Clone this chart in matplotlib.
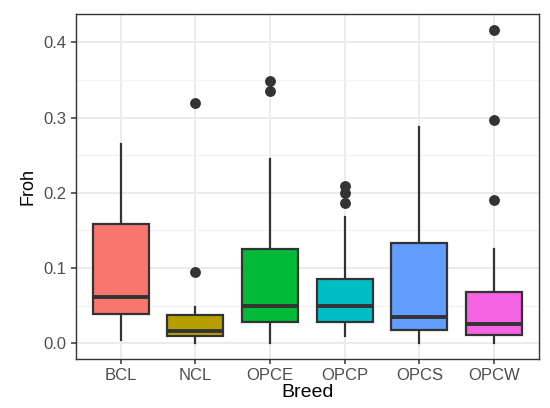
import matplotlib
matplotlib.use("Agg")
import matplotlib.pyplot as plt

breeds = ["BCL", "NCL", "OPCE", "OPCP", "OPCS", "OPCW"]
colors = ["#F8766D", "#B79F00", "#00BA38", "#00BFC4", "#619CFF", "#F564E3"]
whislo = [0.004, 0.001, 0.0, 0.010, 0.0, 0.0]
q1 = [0.039, 0.010, 0.028, 0.028, 0.018, 0.011]
med = [0.061, 0.016, 0.049, 0.050, 0.035, 0.026]
q3 = [0.159, 0.038, 0.126, 0.085, 0.133, 0.068]
whishi = [0.265, 0.048, 0.245, 0.168, 0.287, 0.126]
outliers = [[], [0.320, 0.095], [0.349, 0.335], [0.209, 0.200, 0.186], [], [0.417, 0.297, 0.191]]

plt.rcParams['font.family'] = ['Liberation Sans', 'DejaVu Sans']

fig = plt.figure(figsize=(5.5, 4.08), dpi=100)
ax = fig.add_axes([0.138, 0.120, 0.8415, 0.846])

stats = []
for i, b in enumerate(breeds):
    stats.append(dict(label=b, whislo=whislo[i], q1=q1[i], med=med[i], q3=q3[i],
                      whishi=whishi[i], fliers=outliers[i]))

dark = "#333333"
bp = ax.bxp(stats, positions=range(1, len(breeds) + 1), widths=0.75, patch_artist=True,
            showcaps=False,
            boxprops=dict(edgecolor=dark, linewidth=1.6),
            whiskerprops=dict(color=dark, linewidth=1.6),
            medianprops=dict(color=dark, linewidth=2.8),
            flierprops=dict(marker='o', markerfacecolor=dark, markeredgecolor=dark,
                            markersize=6.8, linestyle='none'))
for patch, c in zip(bp['boxes'], colors):
    patch.set_facecolor(c)
for w in bp['whiskers']:
    w.set_zorder(1.5)

ax.set_xlim(0.4, 6.6)
ax.set_ylim(-0.0209, 0.4379)
ax.set_yticks([0.0, 0.1, 0.2, 0.3, 0.4])
ax.set_yticklabels(["0.0", "0.1", "0.2", "0.3", "0.4"])
ax.set_yticks([0.05, 0.15, 0.25, 0.35], minor=True)
ax.set_xticks(range(1, len(breeds) + 1))
ax.set_xticklabels(breeds)

ax.set_axisbelow(True)
ax.grid(True, which='major', color='#EBEBEB', linewidth=1.4)
ax.grid(True, which='minor', axis='y', color='#F2F2F2', linewidth=0.9)
ax.tick_params(which='major', colors=dark, labelcolor='#4D4D4D', labelsize=12,
               length=3.5, width=1.1, pad=3)
ax.tick_params(which='minor', length=0)
for s in ax.spines.values():
    s.set_color('#333333')
    s.set_linewidth(1.0)

ax.set_xlabel("Breed", fontsize=14, color='black', labelpad=1)
ax.set_ylabel("Froh", fontsize=13, color='black', labelpad=5)

fig.savefig("out.png", dpi=100, facecolor='white')
